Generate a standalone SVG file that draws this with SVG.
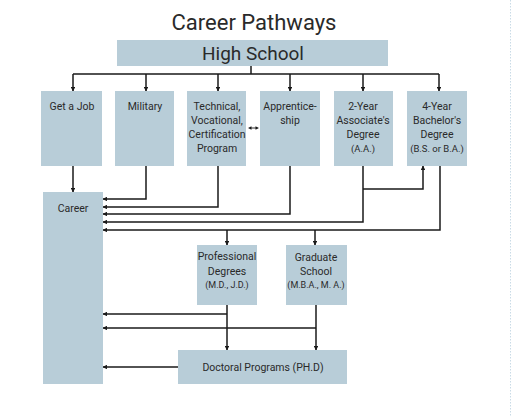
<svg xmlns="http://www.w3.org/2000/svg" width="512" height="417" viewBox="0 0 512 417">
<defs>
<marker id="ah" viewBox="0 0 10 10" refX="9" refY="5" markerWidth="4.5" markerHeight="4.5" orient="auto-start-reverse" markerUnits="userSpaceOnUse">
<path d="M0,0 L10,5 L0,10 z" fill="#1a1a1a"/>
</marker>
<style>
.box{fill:#b8cdd8}
.t{font-family:Roboto,"Liberation Sans",sans-serif;fill:#2a2a2a;text-anchor:middle}
.s{font-size:10.5px}
.c{fill:none;stroke:#1a1a1a;stroke-width:1.5}
.a{marker-end:url(#ah)}
</style>
</defs>
<rect width="512" height="417" fill="#ffffff"/>
<line x1="510.5" y1="0" x2="510.5" y2="417" stroke="#c9dbe6" stroke-width="1" stroke-dasharray="1.5,1.5"/>
<text class="t" x="254" y="30" font-size="22">Career Pathways</text>

<g id="highschool"><rect class="box" x="117" y="40" width="271" height="26"/><text class="t" x="253" y="60" font-size="19">High School</text></g>
<g id="job"><rect class="box" x="41" y="91" width="61" height="75"/><text class="t s" x="72" y="110">Get a Job</text></g>
<g id="military"><rect class="box" x="115" y="91" width="59" height="75"/><text class="t s" x="145" y="110">Military</text></g>
<g id="technical"><rect class="box" x="187" y="91" width="59" height="75"/><text class="t s" x="217" y="110">Technical,<tspan x="217" dy="14">Vocational,</tspan><tspan x="217" dy="14">Certification</tspan><tspan x="217" dy="14">Program</tspan></text></g>
<g id="apprentice"><rect class="box" x="260" y="91" width="60" height="75"/><text class="t s" x="290" y="110">Apprentice-<tspan x="290" dy="14">ship</tspan></text></g>
<g id="associate"><rect class="box" x="334" y="91" width="59" height="75"/><text class="t s" x="363" y="110">2-Year<tspan x="363" dy="14">Associate's</tspan><tspan x="363" dy="14">Degree</tspan><tspan x="363" dy="14" font-size="9.5">(A.A.)</tspan></text></g>
<g id="bachelor"><rect class="box" x="407" y="91" width="60" height="75"/><text class="t s" x="437" y="110">4-Year<tspan x="437" dy="14">Bachelor's</tspan><tspan x="437" dy="14">Degree</tspan><tspan x="437" dy="14" font-size="9.5">(B.S. or B.A.)</tspan></text></g>
<g id="career"><rect class="box" x="43" y="192" width="60" height="192"/><text class="t s" x="73" y="212">Career</text></g>
<g id="professional"><rect class="box" x="197" y="245" width="60" height="60"/><text class="t s" x="227" y="260">Professional<tspan x="227" dy="15">Degrees</tspan><tspan x="227" dy="13" font-size="9">(M.D., J.D.)</tspan></text></g>
<g id="graduate"><rect class="box" x="286" y="245" width="61" height="60"/><text class="t s" x="316" y="261">Graduate<tspan x="316" dy="14">School</tspan><tspan x="316" dy="13" font-size="9">(M.B.A., M. A.)</tspan></text></g>
<g id="doctoral"><rect class="box" x="178" y="350" width="169" height="34"/><text class="t s" x="263" y="371">Doctoral Programs (PH.D)</text></g>

<g id="connectors">
<path class="c" d="M251,66 V74 M73,74 H439"/>
<path class="c a" d="M73,74 V91"/>
<path class="c a" d="M146,74 V91"/>
<path class="c a" d="M218,74 V91"/>
<path class="c a" d="M290,74 V91"/>
<path class="c a" d="M363,74 V91"/>
<path class="c a" d="M439,74 V91"/>
<g id="bidir">
<line x1="250" y1="128" x2="257" y2="128" stroke="#1a1a1a" stroke-width="0.9"/>
<path d="M248,128 L251.5,126.3 L251.5,129.7 z M259,128 L255.5,126.3 L255.5,129.7 z" fill="#1a1a1a"/>
</g>
<path class="c a" d="M73,166 V192"/>
<path class="c a" d="M146,166 V199 H103"/>
<path class="c a" d="M218,166 V207 H103"/>
<path class="c a" d="M290,166 V214 H103"/>
<path class="c a" d="M363,166 V222 H103"/>
<path class="c a" d="M363,189 H423 V166"/>
<path class="c a" d="M440,166 V230 H103"/>
<path class="c a" d="M227,230 V245"/>
<path class="c a" d="M315,230 V245"/>
<path class="c a" d="M227,305 V350"/>
<path class="c a" d="M316,305 V350"/>
<path class="c a" d="M227,314 H103"/>
<path class="c a" d="M316,328 H103"/>
<path class="c a" d="M178,367 H103"/>
</g>
</svg>
